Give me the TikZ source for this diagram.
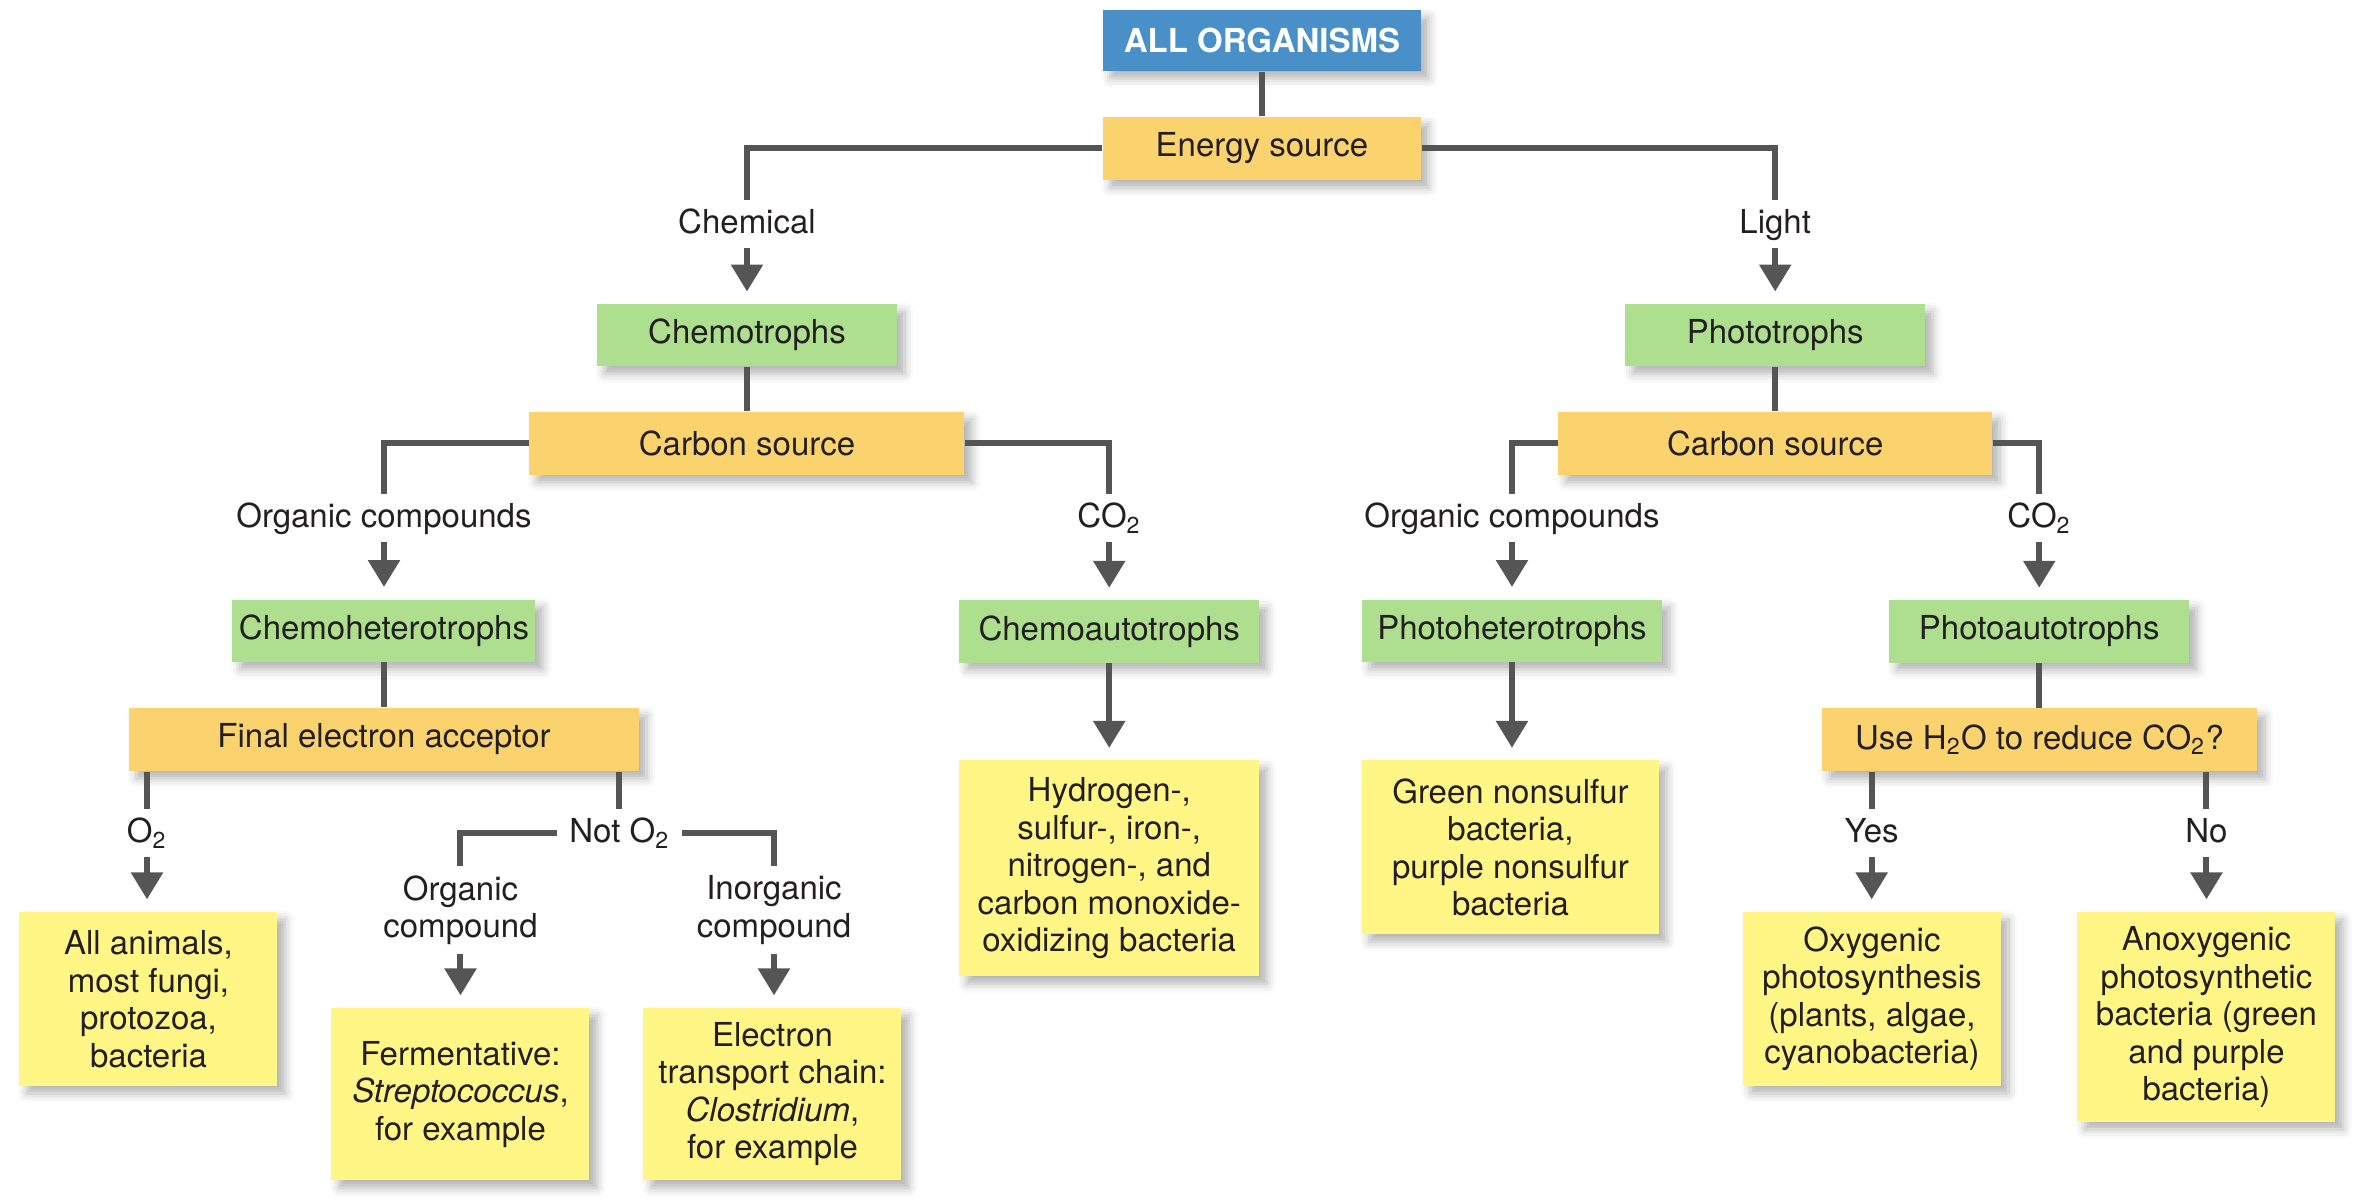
\documentclass[tikz,border=0pt]{standalone}
\usepackage{fontspec}
\setmainfont{TeX Gyre Heros}
\usetikzlibrary{arrows.meta,shadows.blur}
\definecolor{rootblue}{RGB}{74,144,200}
\definecolor{srcorange}{RGB}{250,210,110}
\definecolor{grpgreen}{RGB}{174,223,143}
\definecolor{endyellow}{RGB}{255,246,133}
\definecolor{linkgray}{RGB}{85,85,85}
\definecolor{ink}{RGB}{35,31,32}

\begin{document}
\begin{tikzpicture}[
    x=0.5pt, y=-0.5pt,
    every node/.style={font=\fontsize{11}{12.5}\selectfont, text=ink},
    box/.style={rectangle, align=center, inner sep=2pt, minimum height=21pt, blur shadow={shadow xshift=2.5pt, shadow yshift=-2.5pt, shadow blur radius=3pt, shadow opacity=30}},
    rootbox/.style={box, fill=rootblue, text=white, font=\fontsize{11}{12.5}\selectfont\bfseries, minimum width=106pt, minimum height=20.3pt},
    srcbox/.style={box, fill=srcorange},
    grpbox/.style={box, fill=grpgreen, minimum width=100pt, minimum height=20.75pt},
    endbox/.style={box, fill=endyellow, minimum width=86pt},
    tag/.style={inner xsep=4pt, inner ysep=3pt, text height=8pt, text depth=1.5pt},
    tagtwo/.style={align=center, inner xsep=4pt, inner ysep=3pt},
    link/.style={draw=linkgray, line width=2pt},
    arrow/.style={link, -{Triangle[width=10.3pt, length=9pt]}, shorten >=4pt}
]
\useasboundingbox (0,0) rectangle (1568.7,801.3);

\node[rootbox] (all) at (841.3,27) {ALL ORGANISMS};
\node[srcbox, minimum width=106pt] (energy) at (841.3,99) {Energy source};
\node[tag] (chem) at (498,149.5) {Chemical};
\node[tag] (light) at (1183.5,149.5) {Light};
\node[grpbox] (chemo) at (498,223.5) {Chemotrophs};
\node[grpbox] (photo) at (1183.5,223.5) {Phototrophs};
\node[srcbox, minimum width=145pt] (carbL) at (498,295.5) {Carbon source};
\node[srcbox, minimum width=144.5pt] (carbR) at (1183.5,295.5) {Carbon source};
\node[tag] (orgL) at (256,345.5) {Organic compounds};
\node[tag] (co2L) at (739.5,345.5) {CO\textsubscript{2}};
\node[tag] (orgR) at (1008,345.5) {Organic compounds};
\node[tag] (co2R) at (1359.5,345.5) {CO\textsubscript{2}};
\node[grpbox, minimum width=101pt] (chemohet) at (256,420.5) {Chemoheterotrophs};
\node[grpbox] (chemoaut) at (739.5,421) {Chemoautotrophs};
\node[grpbox] (photohet) at (1008,420.5) {Photoheterotrophs};
\node[grpbox] (photoaut) at (1359.5,421) {Photoautotrophs};
\node[srcbox, minimum width=170pt] (final) at (256,493) {Final electron acceptor};
\node[srcbox, minimum width=145pt] (useh2o) at (1359.7,493.3) {Use H\textsubscript{2}O to reduce CO\textsubscript{2}?};
\node[tag] (o2) at (98,555.5) {O\textsubscript{2}};
\node[tag] (noto2) at (413,555.5) {Not O\textsubscript{2}};
\node[tag] (yes) at (1247.8,555.5) {Yes};
\node[tag] (no) at (1471,555.5) {No};
\node[tagtwo] (orgc) at (307,606.7) {Organic\\compound};
\node[tagtwo] (inorgc) at (516,606.7) {Inorganic\\compound};
\node[endbox, minimum height=58pt] (animals) at (99,666) {All animals,\\most fungi,\\protozoa,\\bacteria};
\node[endbox, minimum height=57.5pt] (ferment) at (307,729.5) {Fermentative:\\\textit{Streptococcus},\\for example};
\node[endbox, minimum height=57.5pt] (etc) at (515,729.5) {Electron\\transport chain:\\\textit{Clostridium},\\for example};
\node[endbox, minimum width=100pt, minimum height=72pt] (hydro) at (739.5,579) {Hydrogen-,\\sulfur-, iron-,\\nitrogen-, and\\carbon monoxide-\\oxidizing bacteria};
\node[endbox, minimum width=99pt, minimum height=58pt] (green) at (1007,565) {Green nonsulfur\\bacteria,\\purple nonsulfur\\bacteria};
\node[endbox, minimum height=58pt] (oxy) at (1248,666) {Oxygenic\\photosynthesis\\(plants, algae,\\cyanobacteria)};
\node[endbox, minimum height=70pt] (anoxy) at (1471,678) {Anoxygenic\\photosynthetic\\bacteria (green\\and purple\\bacteria)};

\draw[link] (all.south) -- (energy.north);
\draw[link] (energy.west) -| (chem.north);
\draw[link] (energy.east) -| (light.north);
\draw[arrow] (chem.south) -- (chemo.north);
\draw[arrow] (light.south) -- (photo.north);
\draw[link] (chemo.south) -- (carbL.north);
\draw[link] (photo.south) -- (carbR.north);
\draw[link] (carbL.west) -| (orgL.north);
\draw[link] (carbL.east) -| (co2L.north);
\draw[link] (carbR.west) -| (orgR.north);
\draw[link] (carbR.east) -| (co2R.north);
\draw[arrow] (orgL.south) -- (chemohet.north);
\draw[arrow] (co2L.south) -- (chemoaut.north);
\draw[arrow] (orgR.south) -- (photohet.north);
\draw[arrow] (co2R.south) -- (photoaut.north);
\draw[link] (chemohet.south) -- (final.north);
\draw[link] (final.south -| o2.north) -- (o2.north);
\draw[link] (final.south -| noto2.north) -- (noto2.north);
\draw[arrow] (o2.south) -- (o2.south |- animals.north);
\draw[link] (noto2.west) -| (orgc.north);
\draw[link] (noto2.east) -| (inorgc.north);
\draw[arrow] (orgc.south) -- (ferment.north);
\draw[arrow] (inorgc.south) -- (inorgc.south |- etc.north);
\draw[arrow] (chemoaut.south) -- (hydro.north);
\draw[arrow] (photohet.south) -- (photohet.south |- green.north);
\draw[link] (photoaut.south) -- (photoaut.south |- useh2o.north);
\draw[link] (useh2o.south -| yes.north) -- (yes.north);
\draw[link] (useh2o.south -| no.north) -- (no.north);
\draw[arrow] (yes.south) -- (yes.south |- oxy.north);
\draw[arrow] (no.south) -- (anoxy.north);

\end{tikzpicture}
\end{document}
